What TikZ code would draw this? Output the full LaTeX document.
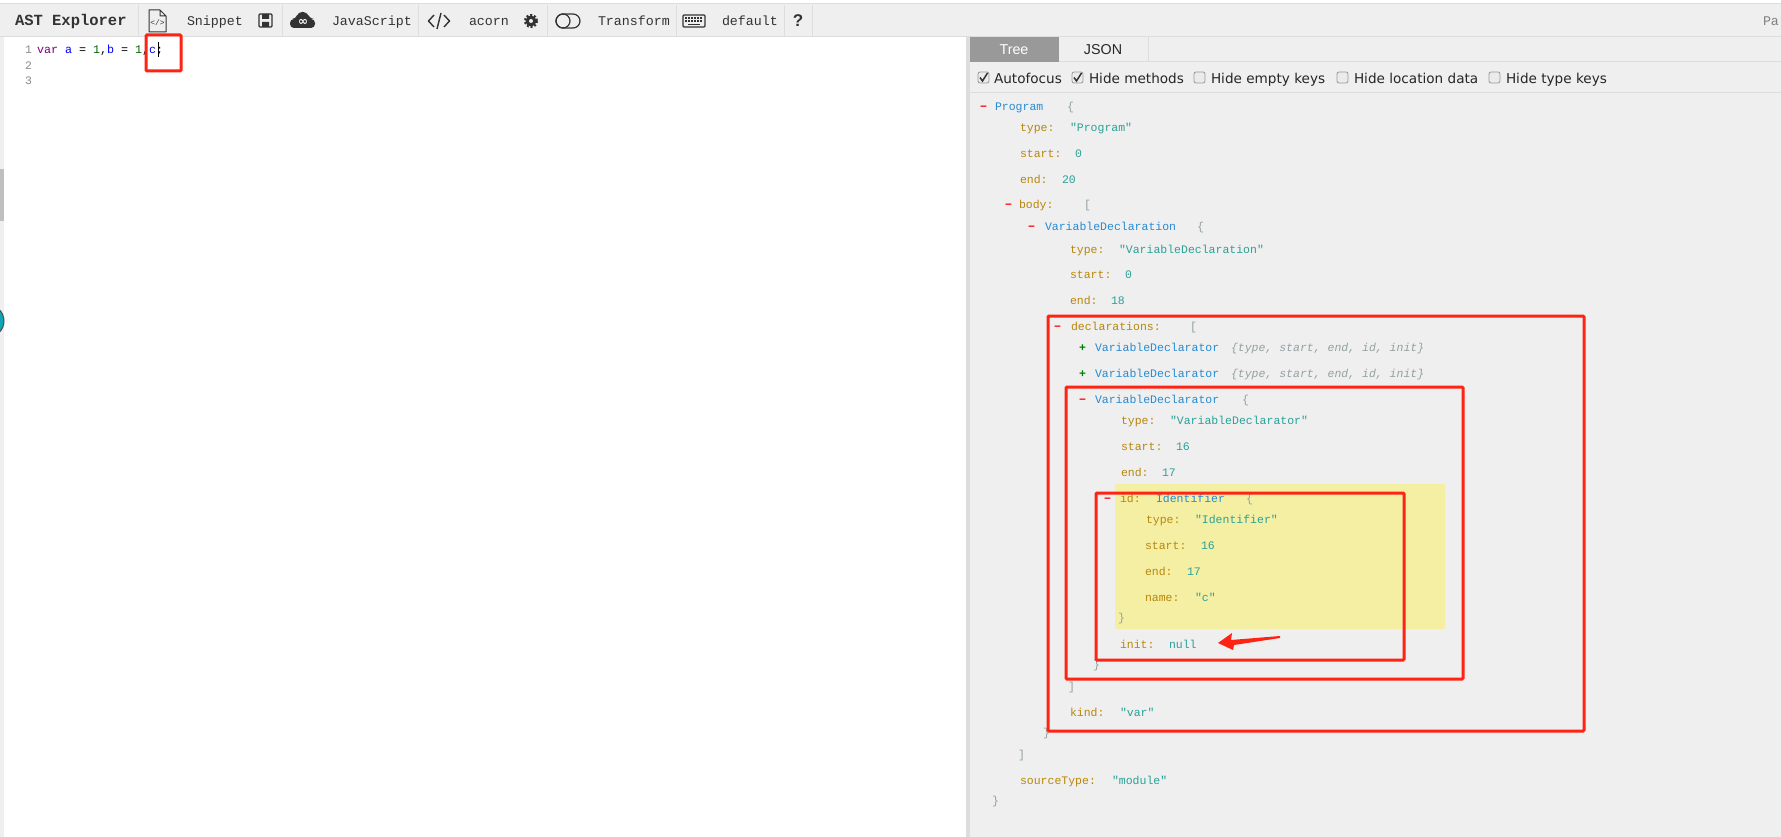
\documentclass[tikz,border=0pt]{standalone}
\usepackage{fontspec}
\setmainfont{Liberation Sans}
\newfontfamily\codefont{Liberation Mono}
\newfontfamily\symfont{DejaVu Sans}
\definecolor{panelgray}{HTML}{EFEFEF}
\definecolor{linegray}{HTML}{DDDDDD}
\definecolor{markred}{HTML}{FF2314}
\definecolor{keycol}{HTML}{B8860B}
\definecolor{valcol}{HTML}{2AA198}
\definecolor{namecol}{HTML}{268BD2}
\definecolor{hintcol}{HTML}{93A1A1}
\definecolor{notecol}{HTML}{F5EFA3}
\definecolor{iconcol}{HTML}{333333}
\definecolor{badgecol}{HTML}{12A5B5}
\tikzset{
  txt/.style = {anchor=base west,inner sep=0pt,outer sep=0pt},
  codetxt/.style = {txt,font=\codefont\fontsize{11.5}{13}\selectfont},
  keytxt/.style = {codetxt,text=keycol},
  valtxt/.style = {codetxt,text=valcol},
  nametxt/.style = {codetxt,text=namecol},
  hinttxt/.style = {codetxt,text=hintcol},
  minustxt/.style = {codetxt,font=\codefont\bfseries\fontsize{11.5}{13}\selectfont,text=red},
  plustxt/.style = {codetxt,font=\codefont\bfseries\fontsize{11.5}{13}\selectfont,text=green!50!black},
  bartxt/.style = {txt,font=\codefont\fontsize{13.3}{15}\selectfont,text=iconcol},
  opttxt/.style = {txt,font=\symfont\fontsize{13.6}{16}\selectfont,text=black!85},
  numtxt/.style = {codetxt,text=black!45},
  checkbox/.style = {draw=black!40,fill=black!8,rounded corners=2pt,line width=0.8pt},
  redbox/.style = {draw=markred,line width=3pt,rounded corners=1pt},
  sep/.style = {draw=linegray,line width=1pt}
}
\begin{document}
\begin{tikzpicture}[x=1pt,y=-1pt]
\useasboundingbox (0,0) rectangle (1781,837);
% backgrounds
\fill[white] (0,0) rectangle (1781,837);
\fill[panelgray] (0,4) rectangle (1781,37);
\fill[panelgray] (0,37) rectangle (4,837);
\fill[black!25] (0,169) rectangle (4,221);
\fill[panelgray] (970,37) rectangle (1781,837);
\fill[linegray] (966,37) rectangle (970,837);
\draw[sep] (0,4) -- (1781,4);
\draw[sep] (0,37) -- (1781,37);
\draw[sep] (970,62) -- (1781,62);
\draw[sep] (970,93) -- (1781,93);
\foreach \x in {138,282,418,547,676,784,812} {\draw[sep] (\x,5) -- (\x,36);}
% scrolled off badge
\begin{scope}
\clip (0,300) rectangle (6,345);
\fill[badgecol,draw=black!70,line width=1pt] (-12,321) circle (16);
\end{scope}
% toolbar
\node[txt,font=\codefont\bfseries\fontsize{15.5}{17}\selectfont,text=iconcol] (title) at (15,26) {AST Explorer};
\node[bartxt] (snippet) at (187,26) {Snippet};
\node[bartxt] (lang) at (332,26) {JavaScript};
\node[bartxt] (parser) at (469,26) {acorn};
\node[bartxt] (transform) at (598,26) {Transform};
\node[bartxt] (keymap) at (722,26) {default};
\node[bartxt,text=black!50] (parsed) at (1763,26) {Pa};
% toolbar icons
\draw[iconcol,line width=1pt,line join=round] (149,10) -- (160,10) -- (166,16) -- (166,32) -- (149,32) -- cycle (160,10) -- (160,16) -- (166,16);
\node[anchor=center,inner sep=0pt,font=\codefont\fontsize{8}{8}\selectfont,text=iconcol] (fileglyph) at (157.500,23) {</>};
\draw[iconcol,line width=1.2pt,rounded corners=1pt] (259,14) rectangle (272,27);
\fill[iconcol] (262,14) rectangle (269,19) (262,22) rectangle (269,27);
\fill[iconcol,rounded corners=4pt] (290,28) -- (290,19) -- (296,19) -- (298,12) -- (307,12) -- (310,19) -- (315,19) -- (315,28) -- cycle;
\node[anchor=center,inner sep=0pt,font=\symfont\bfseries\fontsize{12}{12}\selectfont,text=white] (cloudglyph) at (303,22) {∞};
\draw[iconcol,line width=1.4pt] (434,15) -- (428.500,21) -- (434,27) (444,15) -- (449.500,21) -- (444,27) (441,13) -- (437,29);
\fill[iconcol] (531,21) circle (5.500);
\draw[iconcol,line width=2pt,dash pattern=on 2pt off 1.900pt] (531,21) circle (6);
\fill[panelgray] (531,21) circle (2);
\draw[iconcol,line width=1.2pt,rounded corners=7pt] (556,14) rectangle (580,28);
\draw[iconcol,line width=1.2pt] (563,21) circle (7);
\draw[iconcol,line width=1.2pt,rounded corners=1pt] (683,15) rectangle (705,27);
\foreach \y in {18,21} {\draw[iconcol,line width=1.5pt,dash pattern=on 2pt off 1pt] (685,\y) -- (703,\y);}
\draw[iconcol,line width=1.5pt] (688,24.500) -- (700,24.500);
\node[anchor=center,inner sep=0pt,font=\bfseries\fontsize{17}{17}\selectfont,text=iconcol] (help) at (798,21) {?};
% editor
\node[numtxt] (n1) at (25,54) {1};
\node[numtxt] (n2) at (25,70) {2};
\node[numtxt] (n3) at (25,85) {3};
\node[txt,font=\codefont\fontsize{11.67}{13}\selectfont] (codeline) at (37,54) {\textcolor{violet}{var} \textcolor{blue}{a} = \textcolor{green!40!black}{1},\textcolor{blue}{b} = \textcolor{green!40!black}{1},\textcolor{blue}{c};};
\draw[black,line width=0.7pt] (158,42) -- (158,57);
% tabs
\fill[black!40] (970,37.500) rectangle (1059,62);
\draw[sep] (1148,37) -- (1148,62);
\node[anchor=center,inner sep=0pt,font=\fontsize{14.300}{16}\selectfont,text=white] (tree) at (1014,50) {Tree};
\node[anchor=center,inner sep=0pt,font=\fontsize{14.300}{16}\selectfont,text=black!85] (json) at (1103,50) {JSON};
% options
\foreach \x in {978,1072,1194,1337,1489} {\draw[checkbox] (\x,72) rectangle +(11,11);}
\foreach \x in {978,1072} {\draw[black!80,line width=1.5pt] (\x+2,77.500) -- (\x+4.500,81) -- (\x+9.500,73);}
\node[opttxt] (opt1) at (994,84) {Autofocus};
\node[opttxt] (opt2) at (1089,84) {Hide methods};
\node[opttxt] (opt3) at (1211,84) {Hide empty keys};
\node[opttxt] (opt4) at (1354,84) {Hide location data};
\node[opttxt] (opt5) at (1506,84) {Hide type keys};
% highlight
\fill[notecol,rounded corners=1pt] (1115,484) rectangle (1445,629);
% program
\node[minustxt] (m1) at (980,111) {−};
\node[nametxt] (program) at (995,111) {Program};
\node[hinttxt] (b1) at (1067,111) {\{};
\node[keytxt] (k1) at (1020,132) {type:};
\node[valtxt] (v1) at (1070,132) {"Program"};
\node[keytxt] (k2) at (1020,158) {start:};
\node[valtxt] (v2) at (1075,158) {0};
\node[keytxt] (k3) at (1020,184) {end:};
\node[valtxt] (v3) at (1062,184) {20};
\node[minustxt] (m2) at (1005,209) {−};
\node[keytxt] (k4) at (1019,209) {body:};
\node[hinttxt] (b2) at (1084,209) {[};
% variable declaration
\node[minustxt] (m3) at (1028,231) {−};
\node[nametxt] (decl) at (1045,231) {VariableDeclaration};
\node[hinttxt] (b3) at (1197,231) {\{};
\node[keytxt] (k5) at (1070,254) {type:};
\node[valtxt] (v5) at (1119,254) {"VariableDeclaration"};
\node[keytxt] (k6) at (1070,279) {start:};
\node[valtxt] (v6) at (1125,279) {0};
\node[keytxt] (k7) at (1070,305) {end:};
\node[valtxt] (v7) at (1111,305) {18};
% declarations
\node[minustxt] (m4) at (1054,330) {−};
\node[keytxt] (k8) at (1071,330) {declarations:};
\node[hinttxt] (b4) at (1190,330) {[};
\node[plustxt] (p1) at (1079,351) {+};
\node[nametxt] (d1) at (1095,351) {VariableDeclarator};
\node[hinttxt,font=\codefont\itshape\fontsize{11.5}{13}\selectfont] (h1) at (1231,351) {\{type, start, end, id, init\}};
\node[plustxt] (p2) at (1079,377) {+};
\node[nametxt] (d2) at (1095,377) {VariableDeclarator};
\node[hinttxt,font=\codefont\itshape\fontsize{11.5}{13}\selectfont] (h2) at (1231,377) {\{type, start, end, id, init\}};
\node[minustxt] (m5) at (1079,403) {−};
\node[nametxt] (d3) at (1095,403) {VariableDeclarator};
\node[hinttxt] (b5) at (1242,403) {\{};
\node[keytxt] (k9) at (1121,424) {type:};
\node[valtxt] (v9) at (1170,424) {"VariableDeclarator"};
\node[keytxt] (k10) at (1121,450) {start:};
\node[valtxt] (v10) at (1176,450) {16};
\node[keytxt] (k11) at (1121,476) {end:};
\node[valtxt] (v11) at (1162,476) {17};
% identifier
\node[minustxt] (m6) at (1104,502) {−};
\node[keytxt] (k12) at (1120,502) {id:};
\node[nametxt] (ident) at (1156,502) {Identifier};
\node[hinttxt] (b6) at (1246,502) {\{};
\node[keytxt] (k13) at (1146,523) {type:};
\node[valtxt] (v13) at (1195,523) {"Identifier"};
\node[keytxt] (k14) at (1145,549) {start:};
\node[valtxt] (v14) at (1201,549) {16};
\node[keytxt] (k15) at (1145,575) {end:};
\node[valtxt] (v15) at (1187,575) {17};
\node[keytxt] (k16) at (1145,601) {name:};
\node[valtxt] (v16) at (1195,601) {"c"};
\node[hinttxt] (b7) at (1118,621) {\}};
\node[keytxt] (k17) at (1120,648) {init:};
\node[valtxt] (v17) at (1169,648) {null};
\node[hinttxt] (b8) at (1093,668) {\}};
\node[hinttxt] (b9) at (1068,690) {]};
\node[keytxt] (k18) at (1070,716) {kind:};
\node[valtxt] (v18) at (1120,716) {"var"};
\node[hinttxt] (b10) at (1043,736) {\}};
\node[hinttxt] (b11) at (1018,758) {]};
\node[keytxt] (k19) at (1020,784) {sourceType:};
\node[valtxt] (v19) at (1112,784) {"module"};
\node[hinttxt] (b12) at (992,804) {\}};
% red marks
\draw[redbox] (146,35) rectangle (181,71);
\draw[redbox] (1048,316) rectangle (1584,731);
\draw[redbox] (1066,387) rectangle (1463,679);
\draw[redbox] (1096,493) rectangle (1404,660);
\fill[markred] (1218,643) -- (1232,633) -- (1231,640) -- (1280,636) -- (1280,638) -- (1234,645) -- (1233,650) -- cycle;
\end{tikzpicture}
\end{document}
